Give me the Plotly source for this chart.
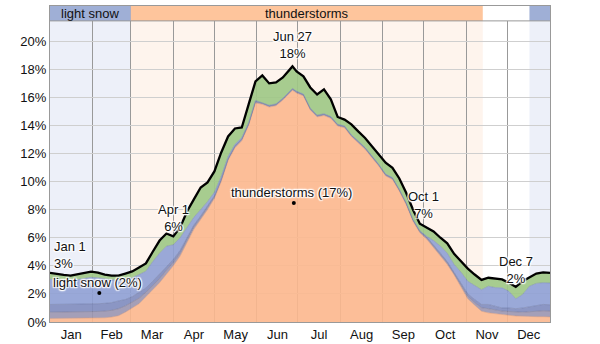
import numpy as np
import pandas as pd
import plotly.graph_objects as go

# ---------------- data (percent chance per day of year) ----------------
days = [0, 5, 10, 15, 20, 25, 30, 35, 40, 45, 50, 55, 60, 65, 70, 75, 80, 85, 90, 95,
        100, 105, 110, 115, 120, 125, 130, 135, 140, 145, 150, 155, 160, 165, 170, 177,
        180, 185, 190, 195, 200, 205, 210, 215, 220, 225, 230, 235, 240, 245, 250, 255,
        260, 265, 270, 275, 280, 285, 290, 295, 300, 305, 310, 315, 320, 325, 330, 335,
        340, 345, 350, 355, 360, 365]

thunderstorms = [0.25, 0.25, 0.25, 0.25, 0.25, 0.25, 0.26, 0.27, 0.30, 0.35, 0.45, 0.7, 1.0, 1.3,
                 1.8, 2.3, 2.8, 3.4, 4.0, 4.7, 5.6, 6.6, 7.3, 8.0, 8.8, 10.0, 11.5, 12.4, 12.9,
                 14.0, 15.6, 15.5, 15.3, 15.4, 15.8, 16.5, 16.3, 16.1, 15.1, 14.6, 14.7, 14.5,
                 13.95, 13.83, 13.2, 12.76, 12.3, 11.7, 11.1, 10.4, 10.15, 9.32, 8.37, 7.18,
                 6.35, 5.9, 5.3, 4.7, 4.1, 3.35, 2.5, 1.65, 1.2, 0.77, 0.65, 0.58, 0.53, 0.48,
                 0.43, 0.4, 0.38, 0.38, 0.38, 0.36]

mixed = [0.45, 0.45, 0.45, 0.45, 0.46, 0.47, 0.48, 0.48, 0.48, 0.48, 0.5, 0.45, 0.42, 0.4,
         0.32, 0.3, 0.3, 0.3, 0.25, 0.22, 0.2, 0.18, 0.15, 0.14, 0.12, 0.12, 0.1, 0.1, 0.1,
         0.1, 0.1, 0.08, 0.08, 0.08, 0.08, 0.08, 0.08, 0.08, 0.08, 0.08, 0.08, 0.08, 0.08,
         0.08, 0.08, 0.08, 0.08, 0.08, 0.08, 0.08, 0.08, 0.08, 0.08, 0.08, 0.08, 0.1, 0.12,
         0.12, 0.12, 0.1, 0.17, 0.2, 0.2, 0.25, 0.3, 0.27, 0.25, 0.27, 0.27, 0.3, 0.35, 0.4,
         0.42, 0.42]

moderate_snow = [0.55, 0.55, 0.55, 0.55, 0.56, 0.56, 0.56, 0.55, 0.55, 0.55, 0.55, 0.45, 0.38,
                 0.38, 0.3, 0.3, 0.3, 0.25, 0.2, 0.18, 0.15, 0.12, 0.1, 0.08, 0.06, 0.05, 0.04,
                 0.03, 0.03, 0.03, 0.02, 0.02, 0.02, 0.02, 0.02, 0.02, 0.02, 0.02, 0.02, 0.02,
                 0.02, 0.02, 0.02, 0.02, 0.02, 0.02, 0.02, 0.02, 0.02, 0.02, 0.02, 0.02, 0.02,
                 0.02, 0.03, 0.05, 0.08, 0.08, 0.08, 0.05, 0.13, 0.15, 0.2, 0.23, 0.3, 0.25,
                 0.22, 0.25, 0.25, 0.3, 0.37, 0.42, 0.45, 0.45]

light_snow = [1.8, 1.75, 1.72, 1.7, 1.75, 1.82, 1.88, 1.85, 1.72, 1.62, 1.5, 1.5, 1.35, 1.3,
              1.2, 1.4, 1.5, 1.45, 1.05, 0.9, 0.75, 0.55, 0.45, 0.35, 0.25, 0.2, 0.15, 0.12,
              0.1, 0.08, 0.06, 0.03, 0.03, 0.03, 0.03, 0.03, 0.03, 0.03, 0.03, 0.03, 0.03,
              0.03, 0.03, 0.03, 0.03, 0.03, 0.03, 0.03, 0.03, 0.03, 0.03, 0.03, 0.03, 0.03,
              0.04, 0.05, 0.3, 0.5, 0.6, 0.6, 0.75, 0.9, 1.0, 1.05, 1.3, 1.35, 1.43, 1.19,
              0.7, 0.96, 1.45, 1.55, 1.55, 1.55]

rain = [0.45, 0.40, 0.38, 0.35, 0.36, 0.40, 0.40, 0.37, 0.33, 0.30, 0.3, 0.35, 0.45, 0.5,
        0.55, 0.7, 0.9, 0.9, 0.6, 0.73, 1.17, 1.28, 1.58, 1.37, 1.49, 1.7, 1.42, 1.13, 0.72,
        1.28, 1.35, 1.93, 1.56, 1.53, 1.48, 1.57, 1.41, 1.26, 1.47, 1.47, 1.73, 1.22, 0.52,
        0.45, 0.74, 0.68, 0.67, 0.69, 0.7, 0.81, 0.7, 0.77, 0.7, 0.68, 0.5, 0.65, 0.65, 0.6,
        0.7, 0.75, 0.78, 0.9, 0.78, 0.7, 0.6, 0.65, 0.6, 0.6, 0.85, 0.94, 0.65, 0.7, 0.73,
        0.72]

# season bands (start day, end day, label)
season_bands = [(0, 59, "light snow"), (59, 316, "thunderstorms"), (316, 350, ""), (350, 365, "snow")]

# callouts: (data day, label line 1, label line 2)
callouts = [(0, "Jan 1", "3%"), (90, "Apr 1", "6%"), (177, "Jun 27", "18%"),
            (275, "Oct 1", "7%"), (340, "Dec 7", "2%")]
callout_x_day = [0, 90, 177, 273, 340]
callout_yshift = [0, 0, 3, 4, -1]

# series labels with marker dots
series_label_days = [36, 178]
series_label_vals = [2.07, 8.48]
series_label_text = ["light snow (2%)", "thunderstorms (17%)"]

# ---------------- build ----------------
base = pd.Timestamp("2021-01-01")
def d2t(d):
    return base + pd.Timedelta(days=d)

x = [d2t(d) for d in days]
total = np.array(thunderstorms) + np.array(mixed) + np.array(moderate_snow) + \
    np.array(light_snow) + np.array(rain)

FONT = "Arial, Liberation Sans, sans-serif"
TOP = 22.5
PLOT_TOP = 21.44

fig = go.Figure()
layers = [
    ("thunderstorms", thunderstorms, "rgba(252,184,142,0.9)", "rgba(215,150,115,0.8)", 0.6),
    ("mixed", mixed, "rgba(155,150,176,0.9)", "rgba(120,116,140,0.8)", 0.6),
    ("moderate snow", moderate_snow, "rgba(128,140,190,0.9)", "rgba(105,115,160,0.8)", 0.6),
    ("light snow", light_snow, "rgba(143,160,212,0.9)", "rgba(115,130,180,0.8)", 0.6),
    ("rain", rain, "rgba(160,200,135,0.92)", "#000000", 2.3),
]
for name, vals, fc, lc, lw in layers:
    fig.add_trace(go.Scatter(x=x, y=vals, name=name, stackgroup="one", mode="lines",
                             fillcolor=fc, line=dict(color=lc, width=lw),
                             hoverinfo="skip", showlegend=False))

fig.add_trace(go.Scatter(x=[d2t(d) for d in series_label_days], y=series_label_vals,
                         mode="markers", marker=dict(color="black", size=4),
                         showlegend=False, hoverinfo="skip"))

shapes = []
bg_colors = {"light snow": "#edf0f9", "snow": "#edf0f9", "thunderstorms": "#fef4ed", "": "white"}
band_colors = {"light snow": "#9fafd6", "snow": "#9fafd6", "thunderstorms": "#fec59c", "": "white"}
for s, e, lab in season_bands:
    shapes.append(dict(type="rect", xref="x", yref="y", x0=d2t(s), x1=d2t(e), y0=0, y1=PLOT_TOP,
                       fillcolor=bg_colors[lab], line=dict(width=0), layer="below"))
    shapes.append(dict(type="rect", xref="x", yref="y", x0=d2t(s), x1=d2t(e), y0=PLOT_TOP, y1=TOP,
                       fillcolor=band_colors[lab], line=dict(width=0), layer="above"))
shapes.append(dict(type="line", xref="paper", yref="y", x0=0, x1=1, y0=PLOT_TOP, y1=PLOT_TOP,
                   line=dict(color="#999", width=1), layer="above"))

halo = ("1px 1px 1px #fff, -1px -1px 1px #fff, 1px -1px 1px #fff, -1px 1px 1px #fff, "
        "0px 1px 2px #fff, 0px -1px 2px #fff")

annotations = []
for s, e, lab in season_bands:
    if lab in ("light snow", "thunderstorms"):
        annotations.append(dict(x=d2t((s + e) / 2), y=(PLOT_TOP + TOP) / 2, xref="x", yref="y",
                                text=lab, showarrow=False, font=dict(family=FONT, size=13, color="#111"),
                                yanchor="middle"))

for (d, l1, l2), xd, ys in zip(callouts, callout_x_day, callout_yshift):
    i = days.index(d)
    left = (xd == 0)
    annotations.append(dict(x=d2t(xd), y=float(total[i]), xref="x", yref="y",
                            text=f"{l1}<br>{l2}", showarrow=False,
                            xanchor="left" if left else "center", align="left" if left else "center",
                            yanchor="bottom", yshift=ys, xshift=2 if left else 0,
                            font=dict(family=FONT, size=13, color="#111", shadow=halo)))

for d, v, t in zip(series_label_days, series_label_vals, series_label_text):
    annotations.append(dict(x=d2t(d), y=v, xref="x", yref="y", text=t, showarrow=False,
                            yanchor="middle", yshift=10, xshift=-2,
                            font=dict(family=FONT, size=13, color="#111", shadow=halo)))

fig.update_layout(
    width=600, height=344,
    margin=dict(l=50, r=50, t=6, b=22, autoexpand=False),
    paper_bgcolor="white", plot_bgcolor="white",
    shapes=shapes, annotations=annotations,
    font=dict(family=FONT, size=13, color="#111"),
)
fig.update_xaxes(type="date", range=[d2t(0), d2t(365)], dtick="M1", tickformat="%b",
                 ticklabelmode="period", showgrid=True, gridcolor="#999", gridwidth=1,
                 ticks="", showline=True, mirror=True, linecolor="#999", linewidth=1,
                 zeroline=False, tickfont=dict(size=13, color="#111"), automargin=False)
fig.update_yaxes(range=[0, TOP], tickvals=list(range(0, 21, 2)),
                 ticktext=[f"{v}%" for v in range(0, 21, 2)],
                 showgrid=True, gridcolor="#cfcfcf", gridwidth=1, ticks="",
                 showline=True, mirror=True, linecolor="#999", linewidth=1, zeroline=False,
                 tickfont=dict(size=13, color="#111"), automargin=False)

fig.write_html("out.html")
